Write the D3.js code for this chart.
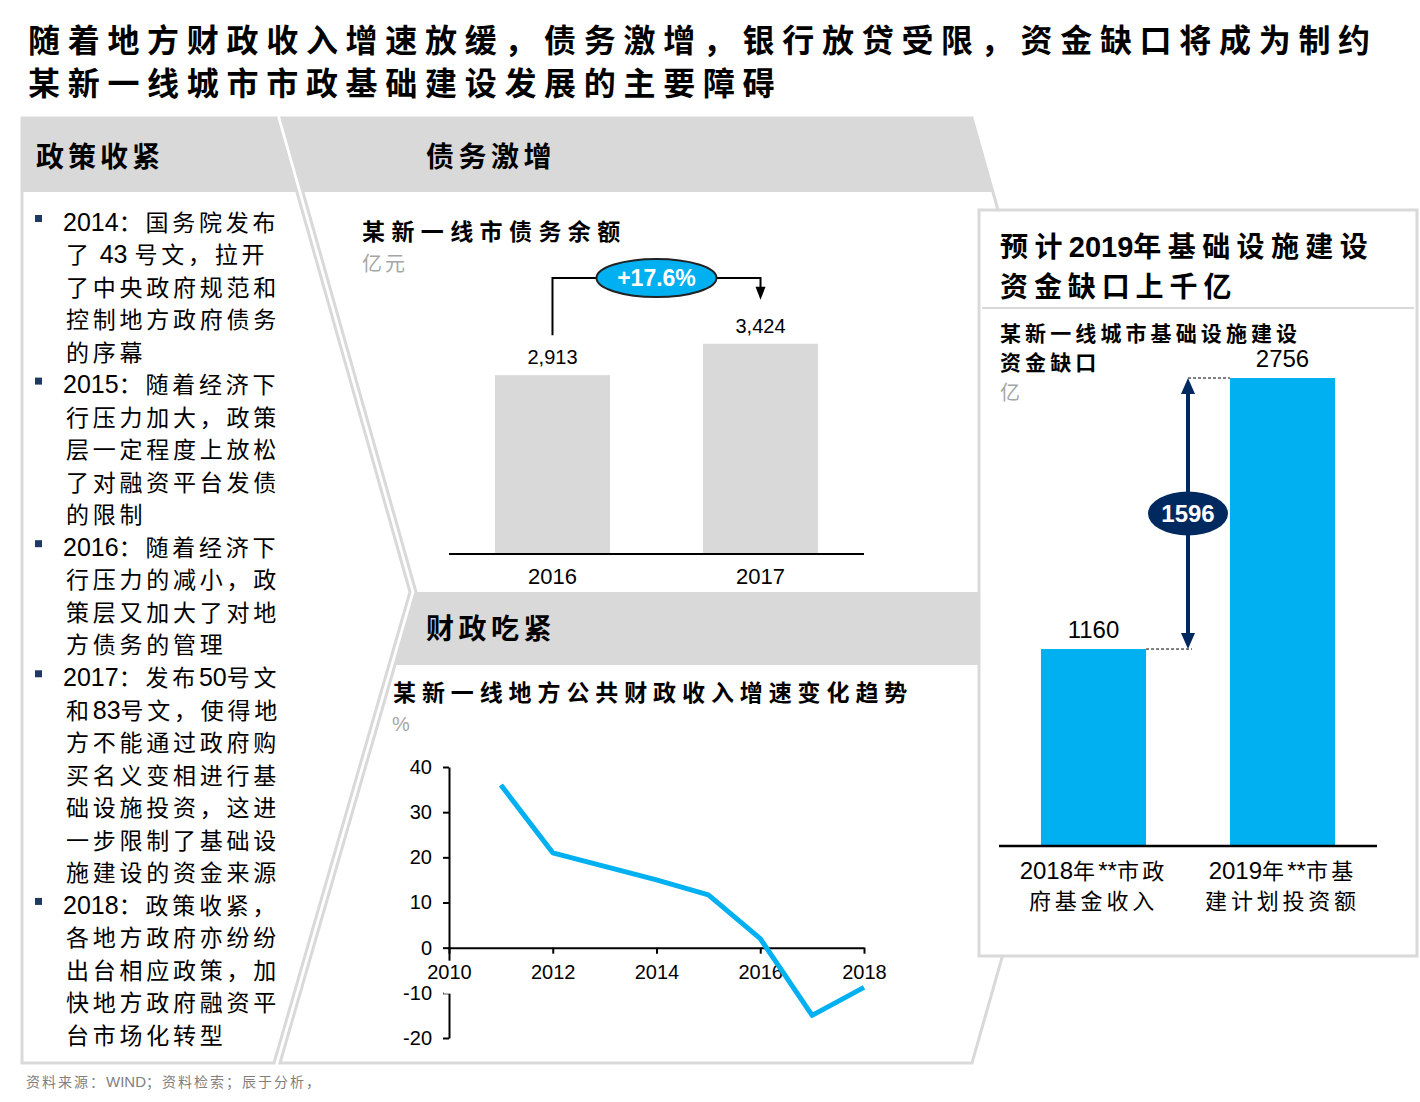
<!DOCTYPE html>
<html><head><meta charset="utf-8">
<script src="https://cdn.jsdelivr.net/npm/d3@7"></script>
<style>body{margin:0;background:#fff} text{white-space:pre}</style>
</head><body>
<svg id="c" width="1420" height="1102" xmlns="http://www.w3.org/2000/svg"></svg>
<script>
// ---------------- DATA ----------------
const titleLines = ["随着地方财政收入增速放缓，债务激增，银行放贷受限，资金缺口将成为制约",
                    "某新一线城市市政基础建设发展的主要障碍"];
const sectionHeads = ["政策收紧", "债务激增", "财政吃紧"];
const policyBullets = [
  ["2014：国务院发布", "了 43 号文，拉开", "了中央政府规范和", "控制地方政府债务", "的序幕"],
  ["2015：随着经济下", "行压力加大，政策", "层一定程度上放松", "了对融资平台发债", "的限制"],
  ["2016：随着经济下", "行压力的减小，政", "策层又加大了对地", "方债务的管理"],
  ["2017：发布50号文", "和83号文，使得地", "方不能通过政府购", "买名义变相进行基", "础设施投资，这进", "一步限制了基础设", "施建设的资金来源"],
  ["2018：政策收紧，", "各地方政府亦纷纷", "出台相应政策，加", "快地方政府融资平", "台市场化转型"]
];
const debtTitle = "某新一线市债务余额";
const debtUnit = "亿元";
const debtYears = ["2016", "2017"];
const debtValues = [2913, 3424];
const debtGrowthLabel = "+17.6%";
const revTitle = "某新一线地方公共财政收入增速变化趋势";
const revUnit = "%";
const revYears = [2011, 2012, 2013, 2014, 2015, 2016, 2017, 2018];
const revGrowth = [36, 21, 18, 15, 11.7, 2, -15, -8.8];
const revYTicks = [40, 30, 20, 10, 0, -10, -20];
const revXTicks = [2010, 2012, 2014, 2016, 2018];
const gapTitle = ["预计2019年基础设施建设", "资金缺口上千亿"];
const gapSubtitle = ["某新一线城市基础设施建设", "资金缺口"];
const gapUnit = "亿";
const gapCats = [["2018年**市政", "府基金收入"], ["2019年**市基", "建计划投资额"]];
const gapValues = [1160, 2756];
const gapDiffLabel = "1596";
const sourceNote = "资料来源：WIND；资料检索；辰于分析，";

// ---------------- STYLE ----------------
const CJK = "'Noto Sans CJK SC','Noto Sans CJK JP',sans-serif";
const LAT = "'Liberation Sans',Arial,sans-serif";
const NARROW = "'Liberation Sans Narrow','Arial Narrow','Liberation Sans',sans-serif";
const GRAY = "#d9d9d9", CYAN = "#00b0f0", NAVY = "#002960";

const svg = d3.select("#c");

function rich(sel, x, y, str, o) {
  const t = sel.append("text").attr("x", x).attr("y", y)
    .attr("text-anchor", o.anchor || "start").attr("fill", o.fill || "#000");
  const runs = str.match(/[\x00-\x7F]+|[^\x00-\x7F]+/g);
  runs.forEach(r => {
    const ascii = /^[\x00-\x7F]/.test(r);
    t.append("tspan").text(r)
      .attr("font-family", ascii ? (o.latinFamily || LAT) : CJK)
      .attr("font-size", ascii ? (o.latinSize || o.size) : o.size)
      .attr("font-weight", ascii ? (o.latinWeight || o.weight || "normal") : (o.weight || "normal"))
      .style("letter-spacing", (ascii ? (o.latinSpacing || 0) : (o.spacing || 0)) + "px");
  });
  return t;
}

// ---------------- BACKGROUND PANELS ----------------
const line = d3.line();
const leftPoly = [[22,118],[276,118],[410,592],[274,1063],[22,1063]];
const midPoly = [[282,118],[972,118],[1106,592],[972,1063],[280,1063],[416,592]];

svg.append("path").attr("d", line([[22,118],[276,118],[297,192],[22,192]]) + "Z").attr("fill", GRAY);
svg.append("path").attr("d", line([[282,118],[972,118],[993,192],[303,192]]) + "Z").attr("fill", GRAY);
svg.append("path").attr("d", line([[416,592],[985,592],[985,665],[395,665]]) + "Z").attr("fill", GRAY);
svg.append("path").attr("d", line(leftPoly) + "Z").attr("fill", "none").attr("stroke", GRAY).attr("stroke-width", 3);
svg.append("path").attr("d", line(midPoly) + "Z").attr("fill", "none").attr("stroke", GRAY).attr("stroke-width", 3);

// right box
svg.append("rect").attr("x", 979).attr("y", 210).attr("width", 438).attr("height", 746)
  .attr("fill", "#fff").attr("stroke", GRAY).attr("stroke-width", 3);
svg.append("line").attr("x1", 982).attr("x2", 1414).attr("y1", 308).attr("y2", 308)
  .attr("stroke", GRAY).attr("stroke-width", 2);

// ---------------- TITLE ----------------
titleLines.forEach((t, i) => rich(svg, 28, 52 + i * 43, t, {size: 32, spacing: 7.7, weight: "bold"}));

// section heads
rich(svg, 36, 167, sectionHeads[0], {size: 28, spacing: 4, weight: "bold"});
rich(svg, 426, 167, sectionHeads[1], {size: 28, spacing: 4.5, weight: "bold"});
rich(svg, 426, 639, sectionHeads[2], {size: 28, spacing: 4.5, weight: "bold"});

// ---------------- LEFT BULLETS ----------------
let li = 0;
policyBullets.forEach(par => {
  par.forEach((ln, j) => {
    const cy = 222 + li * 32.52;
    if (j === 0) {
      svg.append("rect").attr("x", 35).attr("y", cy - 7).attr("width", 7).attr("height", 7).attr("fill", "#1f3864");
    }
    rich(svg, j === 0 ? 63 : 66, cy + 8.7, ln, {size: 23, spacing: 3.75, latinSize: 25, latinSpacing: 0});
    li++;
  });
});

// ---------------- DEBT BAR CHART ----------------
const xDebt = d3.scaleBand().domain(debtYears).range([449, 864]).paddingInner(0.447).paddingOuter(0.221);
const yDebt = d3.scaleLinear().domain([0, 4000]).range([554, 308.4]);
rich(svg, 362, 240, debtTitle, {size: 23, spacing: 6.4, weight: "bold"});
rich(svg, 362, 271, debtUnit, {size: 20, spacing: 3, fill: "#a6a6a6"});

const gD = svg.append("g");
gD.selectAll("rect.bar").data(debtValues).join("rect")
  .attr("x", (d, i) => xDebt(debtYears[i])).attr("width", xDebt.bandwidth())
  .attr("y", d => yDebt(d)).attr("height", d => yDebt(0) - yDebt(d)).attr("fill", GRAY);
gD.selectAll("text.val").data(debtValues).join("text")
  .attr("x", (d, i) => xDebt(debtYears[i]) + xDebt.bandwidth() / 2)
  .attr("y", d => yDebt(d) - 11).attr("text-anchor", "middle")
  .attr("font-family", NARROW).attr("font-size", 20).text(d => d3.format(",")(d));
const axD = gD.append("g").attr("transform", `translate(0,${yDebt(0)})`)
  .call(d3.axisBottom(xDebt).tickSize(0).tickPadding(14));
axD.select(".domain").attr("stroke", "#000").attr("stroke-width", 2).attr("d", "M449,0H864");
axD.selectAll("text").attr("font-family", LAT).attr("font-size", 22).attr("fill", "#000");

// growth bracket
const cx0 = xDebt(debtYears[0]) + xDebt.bandwidth() / 2;
const cx1 = xDebt(debtYears[1]) + xDebt.bandwidth() / 2;
const bTop = 278, bLeftBottom = yDebt(debtValues[0]) - 40, bTip = yDebt(debtValues[1]) - 44;
gD.append("path").attr("d", `M${cx0},${bLeftBottom}V${bTop}H${cx1}V${bTip - 12}`)
  .attr("fill", "none").attr("stroke", "#000").attr("stroke-width", 2);
gD.append("path").attr("d", `M${cx1 - 5},${bTip - 13}L${cx1 + 5},${bTip - 13}L${cx1},${bTip}Z`).attr("fill", "#000");
const ecx = (cx0 + cx1) / 2;
gD.append("ellipse").attr("cx", ecx).attr("cy", bTop).attr("rx", 60).attr("ry", 19)
  .attr("fill", CYAN).attr("stroke", "#222").attr("stroke-width", 2);
gD.append("text").attr("x", ecx).attr("y", bTop + 8).attr("text-anchor", "middle")
  .attr("font-family", NARROW).attr("font-weight", "bold").attr("font-size", 23).attr("fill", "#fff")
  .text(debtGrowthLabel);

// ---------------- REVENUE LINE CHART ----------------
rich(svg, 393, 701, revTitle, {size: 23, spacing: 5.9, weight: "bold"});
svg.append("text").attr("x", 392).attr("y", 731).attr("font-family", LAT).attr("font-size", 20)
  .attr("fill", "#a6a6a6").text(revUnit);

const xRev = d3.scaleLinear().domain([2010, 2018]).range([449, 864]);
const yRev = d3.scaleLinear().domain([-20, 40]).range([1038, 767]);
const gR = svg.append("g");
const ayR = gR.append("g").attr("transform", `translate(${xRev(2010)},0)`)
  .call(d3.axisLeft(yRev).tickValues(revYTicks).tickFormat(d => String(d)).tickSize(6).tickPadding(11).tickSizeOuter(0));
ayR.select(".domain").attr("stroke", "#000").attr("stroke-width", 2);
ayR.selectAll(".tick line").attr("stroke", "#000").attr("stroke-width", 2);
ayR.selectAll("text").attr("font-family", LAT).attr("font-size", 20).attr("fill", "#000");

const axR = gR.append("g").attr("transform", `translate(0,${yRev(0)})`)
  .call(d3.axisBottom(xRev).tickValues(revXTicks).tickFormat(d => String(d)).tickSize(6).tickPadding(11).tickSizeOuter(0));
axR.select(".domain").attr("stroke", "#000").attr("stroke-width", 2);
axR.selectAll(".tick line").attr("stroke", "#000").attr("stroke-width", 2);
axR.selectAll("text").attr("font-family", LAT).attr("font-size", 20).attr("fill", "#000");
// white background behind first x label (breaks the y axis as in the reference)
axR.selectAll(".tick").filter(d => d === 2010).insert("rect", "text")
  .attr("x", -6).attr("y", 13).attr("width", 12).attr("height", 33).attr("fill", "#fff");

gR.append("path").datum(revYears.map((y, i) => [y, revGrowth[i]]))
  .attr("d", d3.line().x(d => xRev(d[0])).y(d => yRev(d[1])))
  .attr("fill", "none").attr("stroke", CYAN).attr("stroke-width", 5).attr("stroke-linejoin", "round");

// ---------------- FUNDING GAP CHART ----------------
rich(svg, 1000, 257, gapTitle[0], {size: 28, spacing: 6.4, weight: "bold", latinSize: 29, latinWeight: "bold"});
rich(svg, 1000, 297, gapTitle[1], {size: 28, spacing: 5.9, weight: "bold"});
rich(svg, 1000, 341, gapSubtitle[0], {size: 21, spacing: 4.1, weight: "bold"});
rich(svg, 1000, 370, gapSubtitle[1], {size: 21, spacing: 4.1, weight: "bold"});
rich(svg, 1000, 400, gapUnit, {size: 20, fill: "#a6a6a6"});

const xGap = d3.scaleBand().domain([0, 1]).range([999, 1377]).paddingInner(0.444).paddingOuter(0.222);
const yGap = d3.scaleLinear().domain([0, 3000]).range([846, 336.6]);
const gG = svg.append("g");
gG.selectAll("rect.bar").data(gapValues).join("rect")
  .attr("x", (d, i) => xGap(i)).attr("width", xGap.bandwidth())
  .attr("y", d => yGap(d)).attr("height", d => yGap(0) - yGap(d)).attr("fill", CYAN);
gG.selectAll("text.val").data(gapValues).join("text")
  .attr("x", (d, i) => xGap(i) + xGap.bandwidth() / 2).attr("y", d => yGap(d) - 11)
  .attr("text-anchor", "middle").attr("font-family", LAT).attr("font-size", 24).text(d => d);
const axG = gG.append("g").attr("transform", `translate(0,${yGap(0)})`)
  .call(d3.axisBottom(xGap).tickSize(0).tickFormat(() => ""));
axG.select(".domain").attr("stroke", "#000").attr("stroke-width", 2.5).attr("d", "M999,0H1377");
gapCats.forEach((c, i) => {
  const cx = xGap(i) + xGap.bandwidth() / 2;
  rich(gG, cx, 879, c[0], {size: 22, spacing: 3.2, latinSize: 24, anchor: "middle"});
  rich(gG, cx, 909, c[1], {size: 22, spacing: 3.8, anchor: "middle"});
});

// difference arrow
const ax = (xGap(0) + xGap.bandwidth() + xGap(1)) / 2;
const yHi = yGap(gapValues[1]), yLo = yGap(gapValues[0]);
gG.append("line").attr("x1", ax).attr("x2", xGap(1)).attr("y1", yHi).attr("y2", yHi)
  .attr("stroke", "#000").attr("stroke-width", 1).attr("stroke-dasharray", "3,2");
gG.append("line").attr("x1", xGap(0) + xGap.bandwidth()).attr("x2", ax + 4).attr("y1", yLo).attr("y2", yLo)
  .attr("stroke", "#000").attr("stroke-width", 1).attr("stroke-dasharray", "3,2");
gG.append("line").attr("x1", ax).attr("x2", ax).attr("y1", yHi + 14).attr("y2", yLo - 14)
  .attr("stroke", NAVY).attr("stroke-width", 4);
gG.append("path").attr("d", `M${ax},${yHi}L${ax + 7},${yHi + 16}L${ax - 7},${yHi + 16}Z`).attr("fill", NAVY);
gG.append("path").attr("d", `M${ax},${yLo}L${ax + 7},${yLo - 16}L${ax - 7},${yLo - 16}Z`).attr("fill", NAVY);
const em = (yHi + yLo) / 2;
gG.append("ellipse").attr("cx", ax).attr("cy", em).attr("rx", 40).attr("ry", 22).attr("fill", NAVY);
gG.append("text").attr("x", ax).attr("y", em + 8.5).attr("text-anchor", "middle")
  .attr("font-family", LAT).attr("font-weight", "bold").attr("font-size", 24).attr("fill", "#fff").text(gapDiffLabel);

// ---------------- FOOTER ----------------
rich(svg, 26, 1087, sourceNote, {size: 14, spacing: 2, latinSize: 15, latinSpacing: 0, fill: "#808080"});
</script>
</body></html>
